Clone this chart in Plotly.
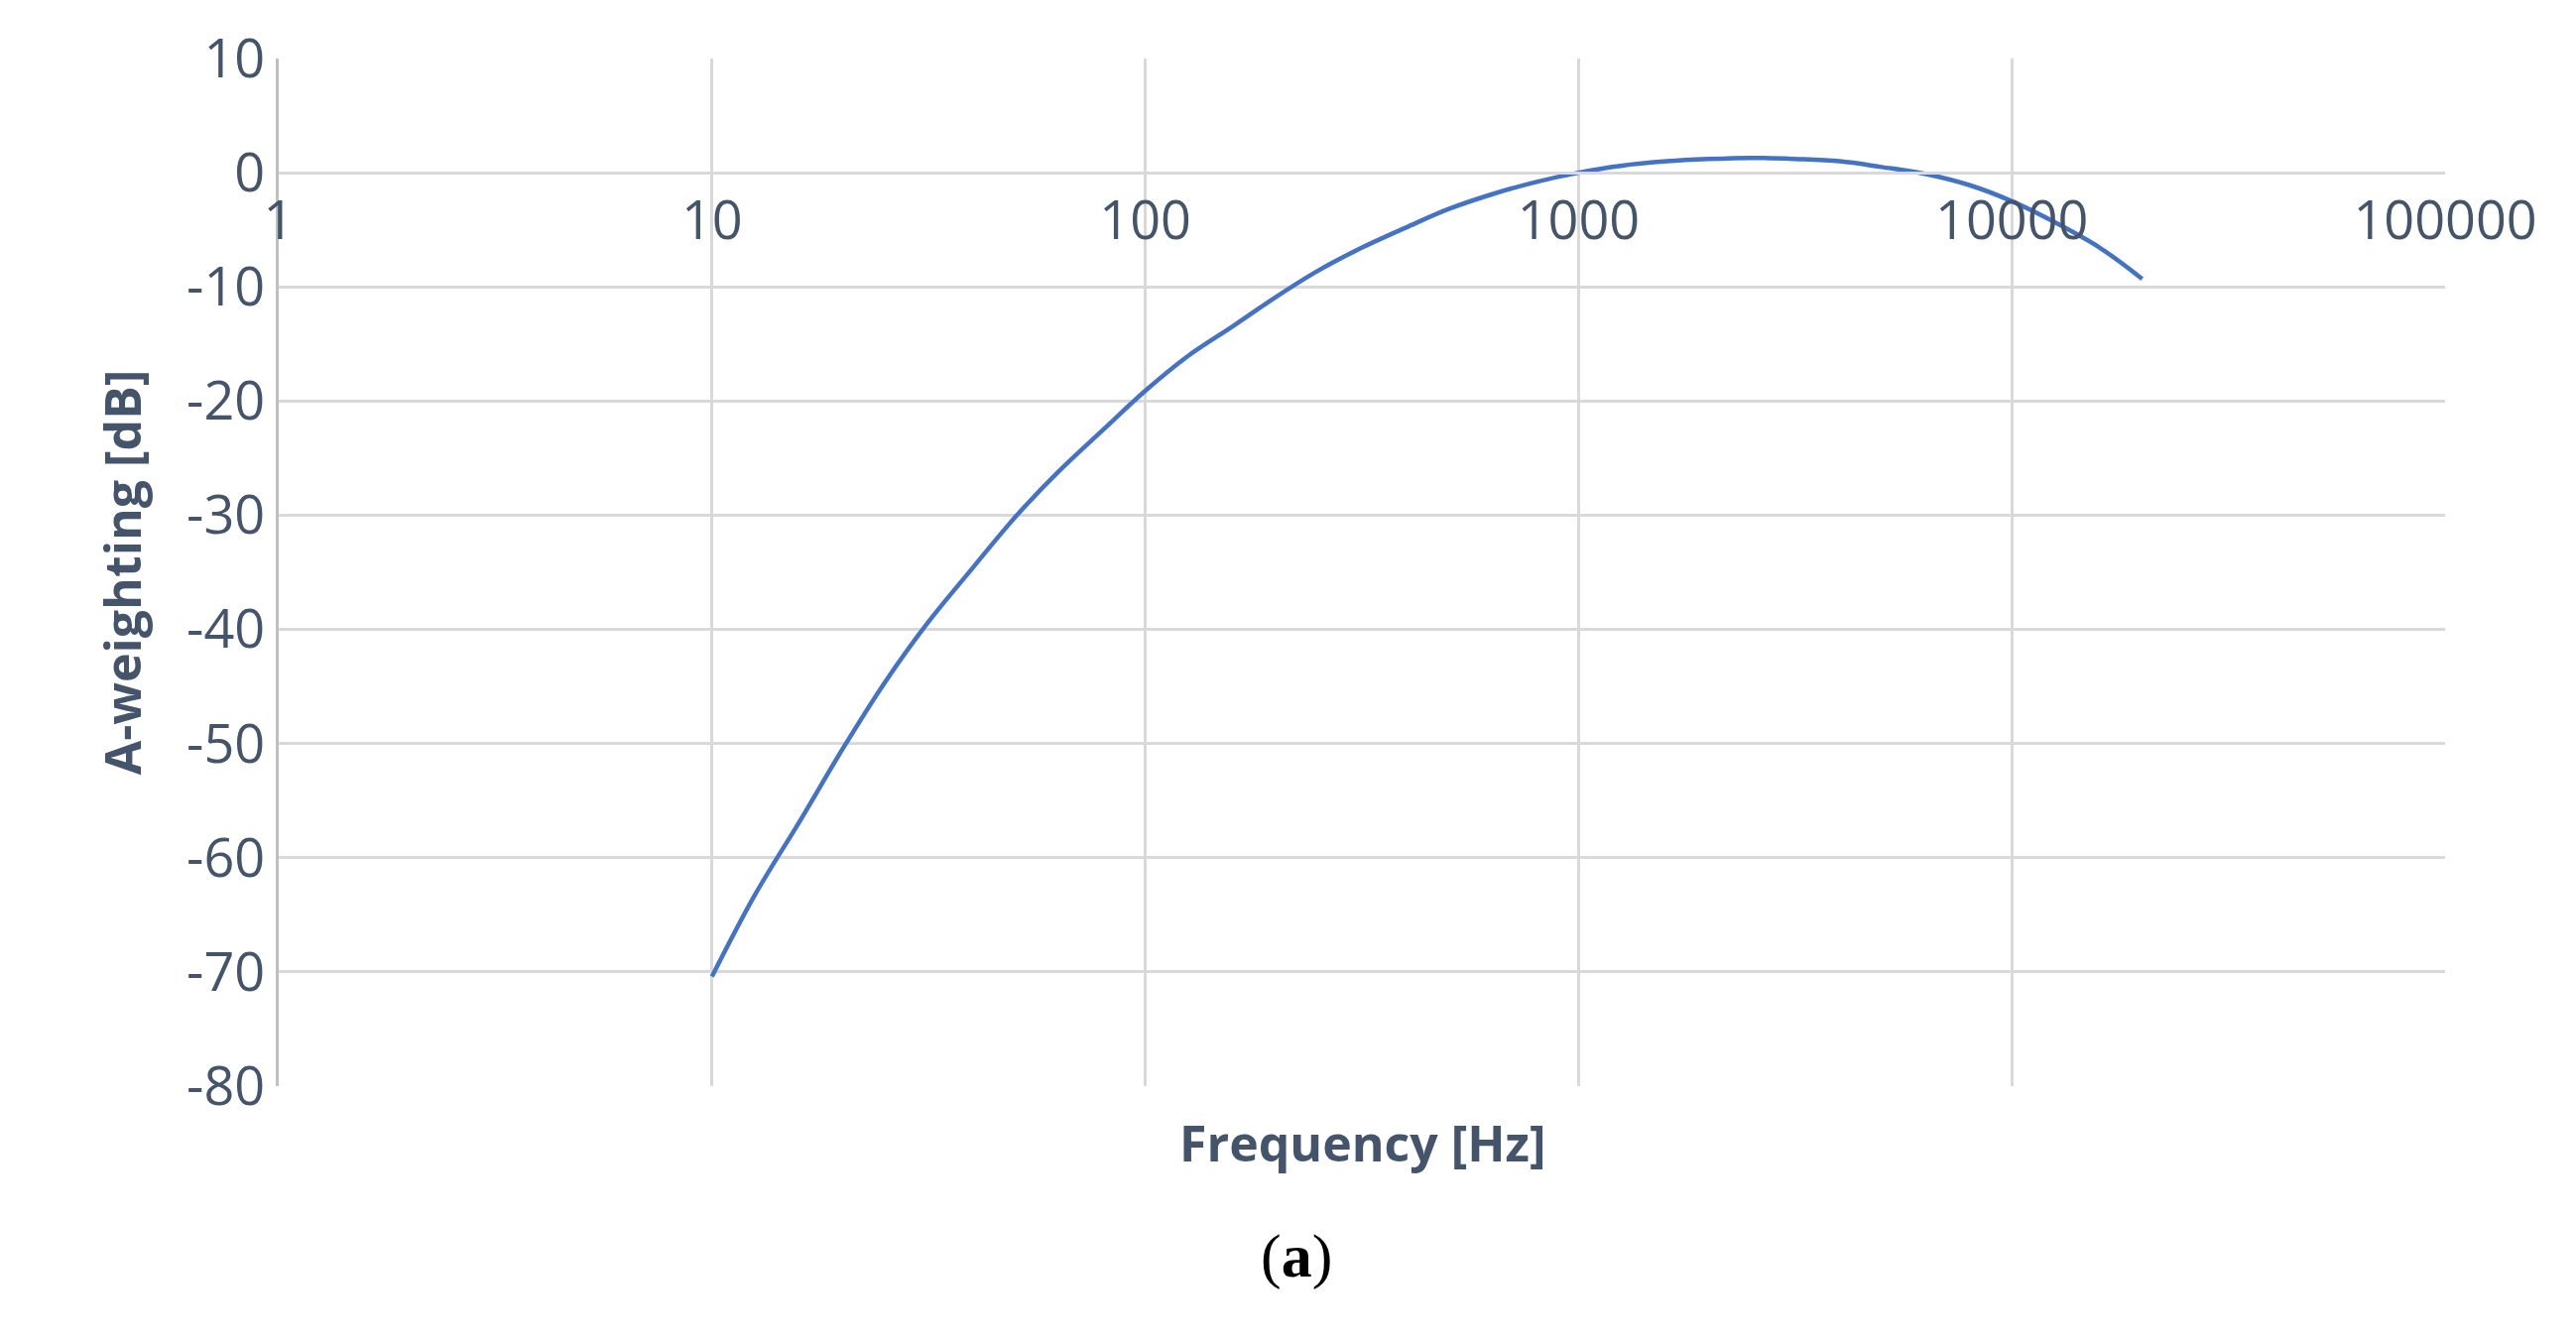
import plotly.graph_objects as go

freq = [10, 12.5, 16, 20, 25, 31.5, 40, 50, 63, 80, 100, 125, 160, 200, 250, 315, 400, 500,
        630, 800, 1000, 1250, 1600, 2000, 2500, 3150, 4000, 5000, 6300, 8000, 10000, 12500,
        16000, 20000]
weight = [-70.4, -63.4, -56.7, -50.5, -44.7, -39.4, -34.6, -30.2, -26.2, -22.5, -19.1, -16.1,
          -13.4, -10.9, -8.6, -6.6, -4.8, -3.2, -1.9, -0.8, 0.0, 0.6, 1.0, 1.2, 1.3, 1.2, 1.0,
          0.5, -0.1, -1.1, -2.5, -4.3, -6.6, -9.3]
xticks = [1, 10, 100, 1000, 10000, 100000]
xticklabels = ["1", "10", "100", "1000", "10000", "100000"]
yticks = [10, 0, -10, -20, -30, -40, -50, -60, -70, -80]
yticklabels = ["10", "0", "-10", "-20", "-30", "-40", "-50", "-60", "-70", "-80"]

txt = "#44546a"
grid = "#d9d9d9"
fig = go.Figure(go.Scatter(x=freq, y=weight, mode="lines",
                           line=dict(color="#4472c4", width=4.5, shape="spline")))
fig.update_layout(
    width=2597, height=1352, plot_bgcolor="white", paper_bgcolor="white",
    margin=dict(l=273, r=140, t=47, b=265), showlegend=False,
    font=dict(family="Open Sans, Liberation Sans", color=txt),
    xaxis=dict(type="log", range=[0, 5], tickvals=xticks, ticktext=xticklabels,
               showgrid=True, gridcolor=grid, gridwidth=3, zeroline=False,
               anchor="free", position=80/90, ticks="", tickfont=dict(size=54, color=txt),
               showline=True, linecolor=grid, linewidth=3),
    yaxis=dict(range=[-80, 10], tickvals=yticks, ticktext=yticklabels, showgrid=True,
               gridcolor=grid, gridwidth=3, zeroline=False, ticks="",
               tickfont=dict(size=54, color=txt),
               showline=True, linecolor="#bfbfbf", linewidth=3,
               title=dict(text="<b>A-weighting [dB]</b>", font=dict(size=50, color=txt), standoff=30)),
)
fig.add_annotation(xref="paper", yref="paper", x=0.5, y=-0.02, yanchor="top", showarrow=False,
                   text="<b>Frequency [Hz]</b>", font=dict(size=50, color=txt))
fig.add_annotation(xref="paper", yref="paper", x=0.47, y=-0.13, yanchor="top", showarrow=False,
                   text="(<b>a</b>)", font=dict(size=62, color="black", family="Liberation Serif"))
fig.write_html("out.html")
